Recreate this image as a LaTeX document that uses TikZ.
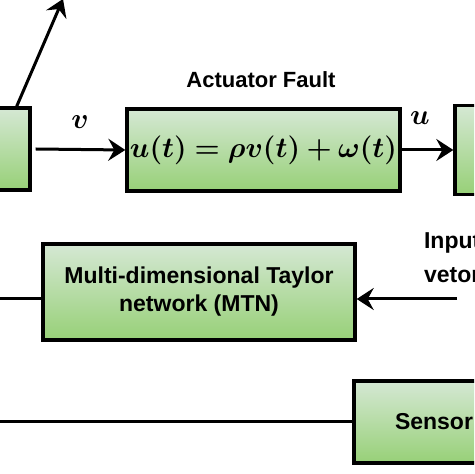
\documentclass[tikz,border=0pt]{standalone}
\usepackage{fontspec}
\setmainfont{Liberation Sans}
\usepackage{amsmath,bm}
\usetikzlibrary{arrows.meta,calc}
\definecolor{blktop}{HTML}{D5E8D4}
\definecolor{blkbot}{HTML}{97D077}
\begin{document}
\begin{tikzpicture} [
                    x=0.5pt, y=-0.5pt,
                    blk/.style={draw, line width=1.7pt, top color=blktop, bottom color=blkbot, align=center, inner sep=0pt, font=\bfseries\fontsize{11.5}{14}\selectfont},
                    lbl/.style={font=\bfseries\fontsize{11}{14}\selectfont, align=center},
                    arr/.style={line width=1.5pt, -{Stealth[length=8.5pt,width=11pt,inset=3pt]}},
                    ln/.style={line width=1.5pt}
                ]
                \useasboundingbox (0,0) rectangle (474,474);
                \clip (0,0) rectangle (474,474);
                \node [blk, minimum width=45pt, minimum height=41pt] (ctrl) at (-15,149) {};
                \node [blk, minimum width=136.5pt, minimum height=41pt, font=\fontsize{14}{17}\selectfont] (act) at (263.5,150) {$\bm{u(t) = \rho v(t) + \omega(t)}$};
                \node [blk, minimum width=52.5pt, minimum height=44.5pt] (plant) at (507.5,150) {};
                \node [blk, minimum width=156pt, minimum height=48pt] (mtn) at (199,292) {Multi-dimensional Taylor\\network (MTN)};
                \node [blk, minimum width=80pt, minimum height=41pt] (sensor) at (434,422) {Sensor};
                \node [lbl] (fault) at (261,80) {Actuator Fault};
                \node [font=\fontsize{14}{17}\selectfont] (vlbl) at (80,122) {$\bm{v}$};
                \node [font=\fontsize{14}{17}\selectfont] (ulbl) at (420,118) {$\bm{u}$};
                \node [lbl, align=left, anchor=west, font=\bfseries\fontsize{11.5}{17}\selectfont] (inlbl) at (417,258) {Input\\vetor};
                \coordinate (out) at (63,-1);
                \coordinate (inp) at (457,299);
                \coordinate (lin) at (-10,299);
                \coordinate (fb) at (-10,421);
                \draw [arr] (ctrl.north east) ++(-15,0) -- (out);
                \draw [arr] (ctrl.east) ++(4,0) -- (act.west);
                \draw [arr] (act.east) -- (plant.west);
                \draw [arr] (inp) -- (inp -| mtn.east);
                \draw [ln] (lin) -- (lin -| mtn.west);
                \draw [ln] (fb) -- (fb -| sensor.west);
                \end{tikzpicture}
\end{document}
